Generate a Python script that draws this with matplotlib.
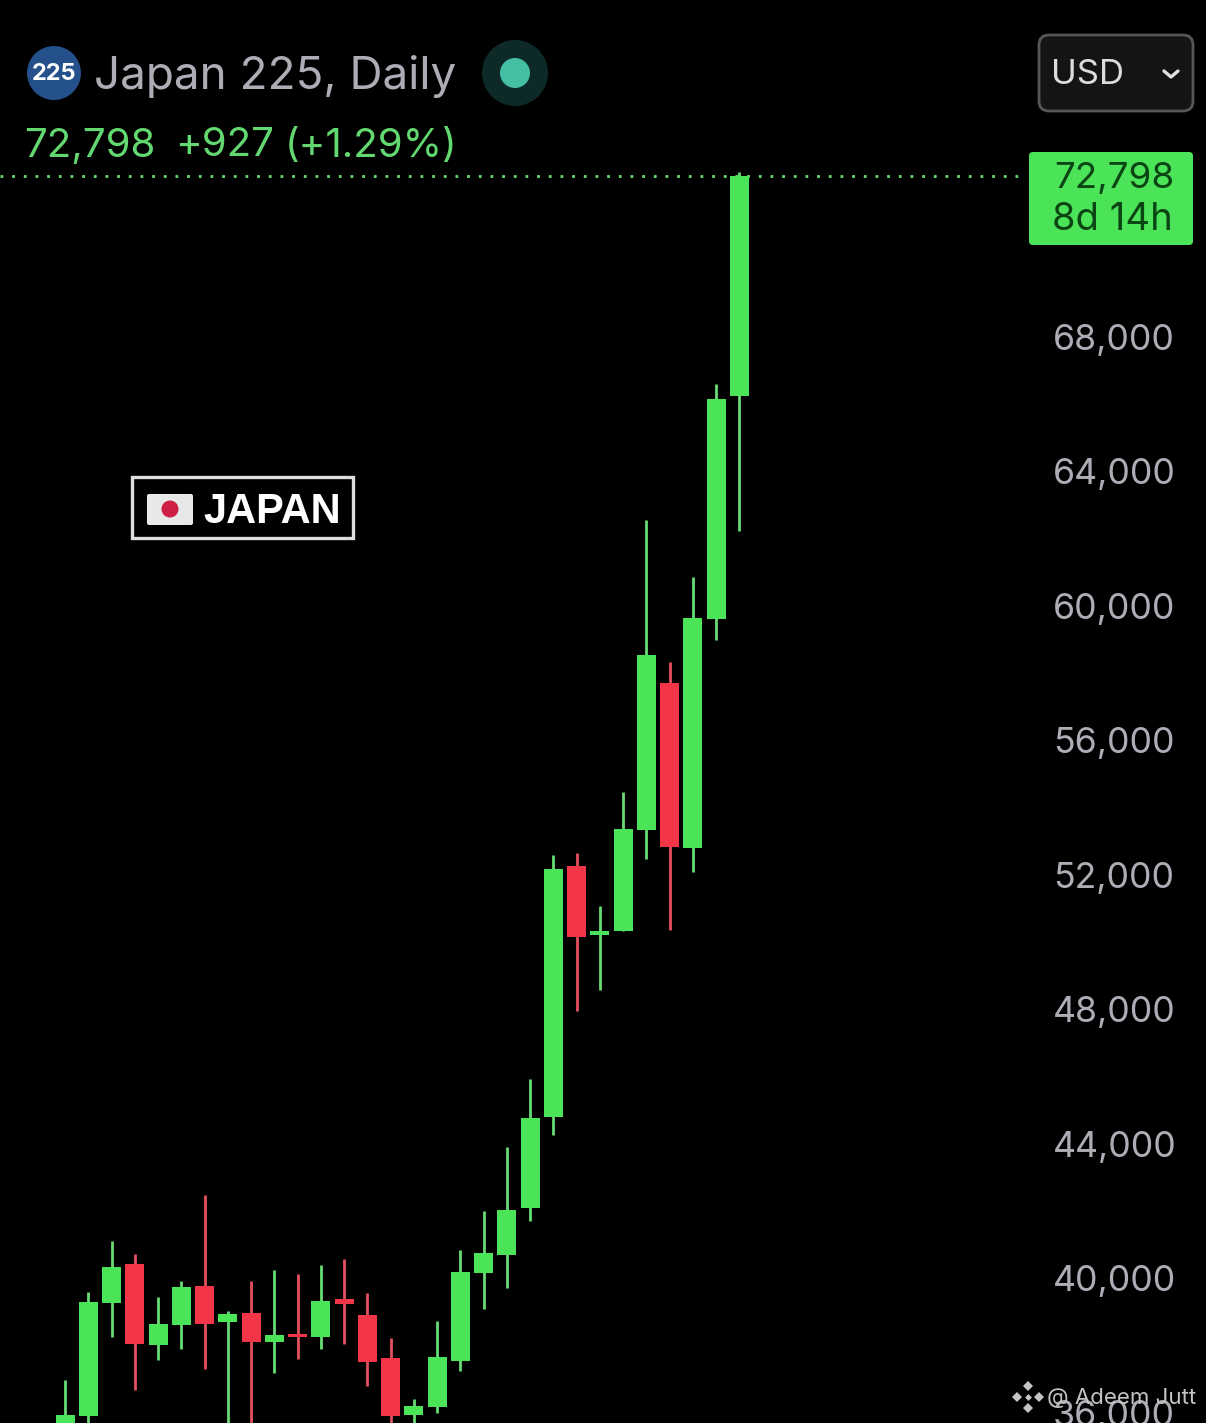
import matplotlib
matplotlib.use('Agg')
import numpy as np
import matplotlib.pyplot as plt
from matplotlib.patches import Circle, Ellipse, FancyBboxPatch, Rectangle

# Daily candles (oldest first)
highs = [36970, 39590, 41130, 40720, 39440, 39920, 42470, 39020, 39920, 40240,
         40120, 40390, 40570, 39560, 38220, 36410, 38730, 40840, 42000, 43900,
         45920, 52600, 52640, 51090, 54480, 62560, 58340, 60870, 66600, 72900]
opens = [35500, 35900, 39260, 40420, 38010, 38610, 39770, 38700, 38960, 38100,
         38340, 38250, 39380, 38900, 37630, 35930, 36170, 37540, 40150, 40690,
         42110, 44790, 52280, 50230, 50320, 53350, 57720, 52810, 59620, 66250]
closes = [35930, 39290, 40330, 38040, 38640, 39740, 38640, 38930, 38100, 38310,
          38250, 39320, 39230, 37510, 35900, 36200, 37660, 40180, 40750, 42050,
          44760, 52190, 50170, 50320, 53380, 58550, 52840, 59650, 66160, 72798]
lows = [35300, 35500, 38250, 36680, 37570, 37890, 37300, 35500, 35500, 37180,
        37600, 37890, 38040, 36790, 35500, 35500, 35990, 37240, 39080, 39710,
        41700, 44280, 47970, 48590, 50320, 52490, 50350, 52100, 59000, 62240]

price_ticks = [36000, 40000, 44000, 48000, 52000, 56000, 60000, 64000, 68000]
last_price = 72798

W, H = 1206, 1423
GREEN = '#4be358'
RED = '#f23547'
GREEN_WICK = '#68dc74'
RED_WICK = '#e5505f'
TEXT_GREEN = '#63d870'
GREY = '#adadb5'

plt.rcParams['font.family'] = ['Inter', 'DejaVu Sans']

fig = plt.figure(figsize=(W / 100, H / 100), dpi=100, facecolor='black')

# Chart axes stop where the price column starts
plot_right = 1026
ax = fig.add_axes([0, 0, plot_right / W, 1], facecolor='black')

step = 23.25
first_x = 65
ax.set_xlim(-first_x / step, (plot_right - first_x) / step)

px_per_price = 134.5 / 4000
y_68k = 337
ax.set_ylim(68000 - (H - y_68k) / px_per_price, 68000 + y_68k / px_per_price)

x = np.arange(len(opens))
opens = np.array(opens)
closes = np.array(closes)
up = closes >= opens
bottoms = np.minimum(opens, closes)
heights = np.abs(closes - opens)

ax.vlines(x, lows, highs, colors=np.where(up, GREEN_WICK, RED_WICK), lw=2.0, zorder=2)
ax.bar(x, heights, bottom=bottoms, width=19 / step,
       color=np.where(up, GREEN, RED), linewidth=0, zorder=3)

ax.axhline(last_price, color=GREEN_WICK, lw=2, ls=(0, (1, 3.2)), zorder=1)

for side in ax.spines.values():
    side.set_visible(False)
ax.set_xticks([])
ax.yaxis.tick_right()
ax.set_yticks(price_ticks)
ax.set_yticklabels([f'{p:,}' for p in price_ticks])
ax.tick_params(axis='y', length=0, pad=19.5, labelsize=25.7, labelcolor=GREY)

# Header, badges and watermark are placed in pixels
over = fig.add_axes([0, 0, 1, 1])
over.set_xlim(0, W)
over.set_ylim(H, 0)
over.axis('off')
over.patch.set_alpha(0)

over.add_patch(Circle((54, 73), 27, color='#24508c', lw=0))
over.text(54, 74, '225', color='white', fontsize=17, fontweight='bold',
          ha='center', va='center')
over.text(94, 77, 'Japan 225, Daily', color=GREY, fontsize=33, va='center')
over.add_patch(Ellipse((515, 73), 66, 66, color='#0d2a28', lw=0))
over.add_patch(Ellipse((515, 73), 30, 30, color='#45bfa4', lw=0))

over.text(24, 146, '72,798', color=TEXT_GREEN, fontsize=29, va='center')
over.text(175, 146, '+927', color=TEXT_GREEN, fontsize=29, va='center')
over.text(285, 146, '(+1.29%)', color=TEXT_GREEN, fontsize=29, va='center')

over.add_patch(FancyBboxPatch((1047, 43), 138, 60, boxstyle='round,pad=8,rounding_size=10',
                              fc='#141414', ec='#565656', lw=2))
over.text(1051, 75, 'USD', color='#dcdcdc', fontsize=25, va='center')
over.plot([1164, 1171, 1178], [71, 77, 71], color='#e0e0e0', lw=2.4, solid_capstyle='round')

over.add_patch(FancyBboxPatch((1029, 152), 164, 93, boxstyle='round,pad=0,rounding_size=4',
                              fc=GREEN, ec='none'))
over.text(1175, 178, f'{last_price:,}', color='#0c4514', fontsize=26.5, ha='right', va='center')
over.text(1173, 220, '8d 14h', color='#0c4514', fontsize=27.5, ha='right', va='center')

over.add_patch(Rectangle((131.5, 476.5), 221, 61, fc='black', ec='#dddddd', lw=2.4))
over.add_patch(FancyBboxPatch((147, 494), 46, 31, boxstyle='round,pad=0,rounding_size=2',
                              fc='#e8e8e8', ec='none'))
over.add_patch(Circle((170, 509), 8.5, color='#cf1f45', lw=0))
over.text(203, 512, 'JAPAN', color='white', fontsize=30, fontweight='bold', va='center',
          family=['Liberation Sans', 'DejaVu Sans'])

wm = '#c4c4c4'
over.plot([1028, 1017, 1039, 1028], [1386, 1397, 1397, 1408], ls='none', marker='D',
          ms=5, color=wm, mew=0)
over.plot([1028], [1397], ls='none', marker='D', ms=3.5, color=wm, mew=0)
over.text(1047, 1398, '@ Adeem Jutt', color=wm, fontsize=16, va='center', zorder=5)

fig.savefig('out.png', dpi=100, facecolor='black')
